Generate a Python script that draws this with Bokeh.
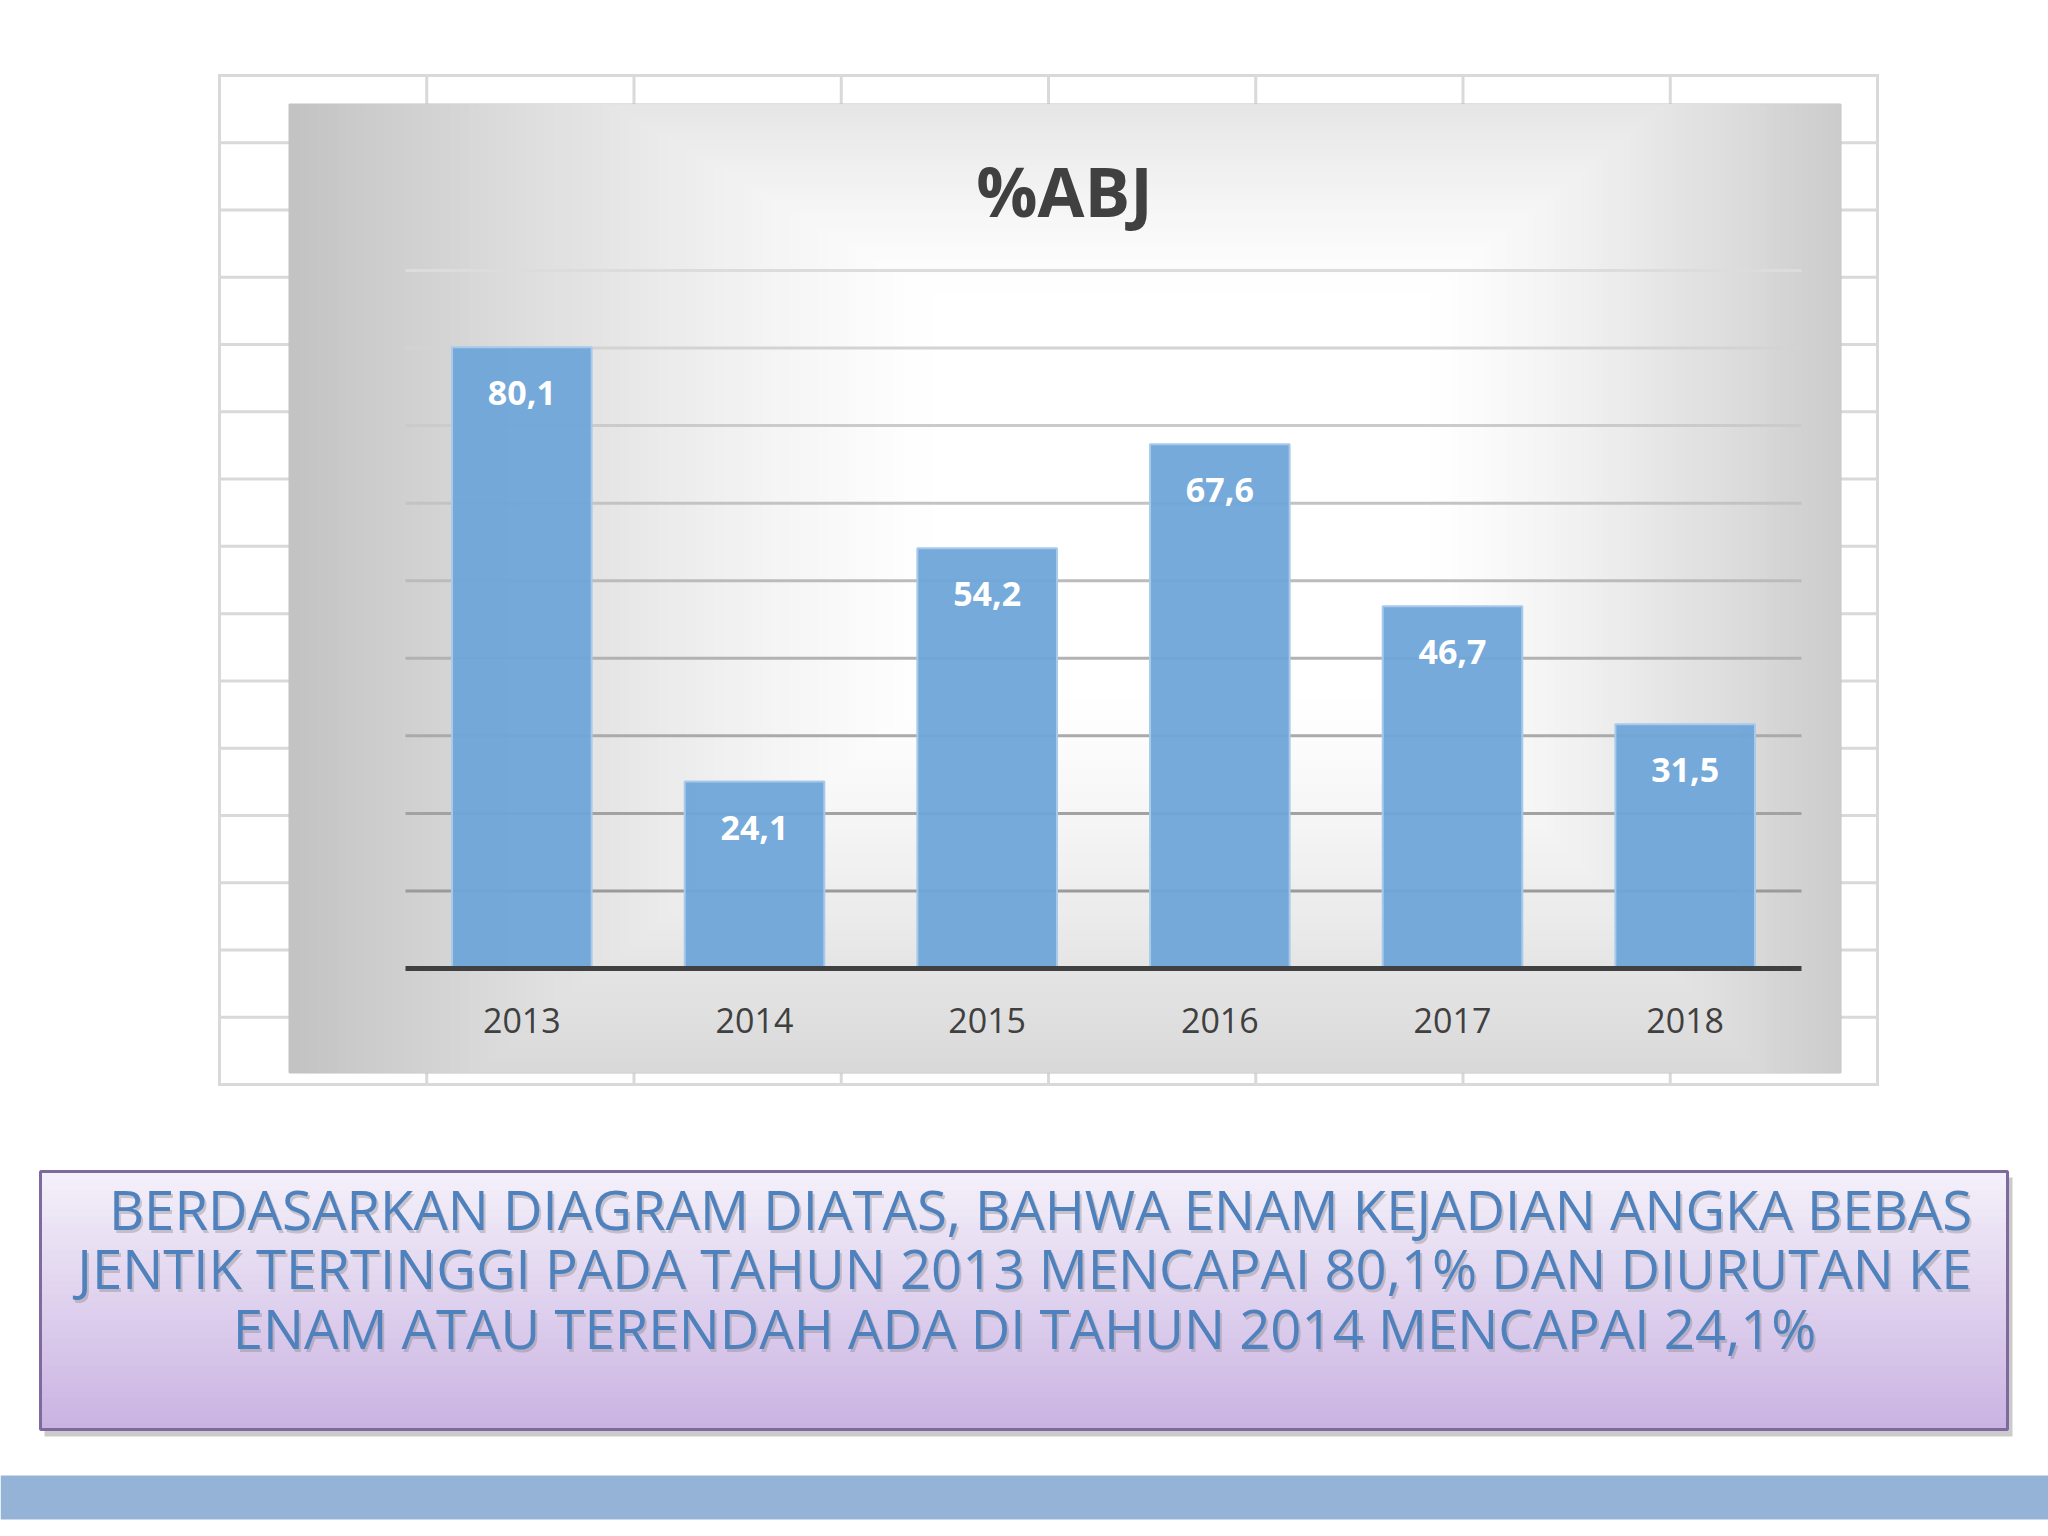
from bokeh.plotting import figure
from bokeh.models import FactorRange, Range1d, LabelSet, ColumnDataSource, Spacer
from bokeh.layouts import row, column
from bokeh.core.properties import value
from bokeh.embed import file_html
from bokeh.resources import INLINE

# ---------------- data ----------------
years = ["2013", "2014", "2015", "2016", "2017", "2018"]
abj = [80.1, 24.1, 54.2, 67.6, 46.7, 31.5]
title_text = "%ABJ"
note_lines = [
    "BERDASARKAN DIAGRAM DIATAS, BAHWA ENAM KEJADIAN ANGKA BEBAS",
    "JENTIK TERTINGGI PADA TAHUN 2013 MENCAPAI 80,1% DAN DIURUTAN KE",
    "ENAM ATAU TERENDAH ADA DI TAHUN 2014 MENCAPAI 24,1%",
]
grid_values = [10, 20, 30, 40, 50, 60, 70, 80, 90]
y_max = 90

FONT = "Open Sans"

# ---------------- layout geometry (page pixels) ----------------
PAGE_L, PAGE_R = 0, 2048
CH_L, CH_T, CH_B = 158, 0, 1112          # chart figure canvas on the page
PLOT_L, PLOT_R = 405, 1801               # plot area on the page
PLOT_TOP, PLOT_BASE = 270, 968           # y of value y_max and of 0
BOT_B = 1530                             # bottom of lower figure

cw, chh = PAGE_R - CH_L, CH_B - CH_T
pad = (PAGE_R - CH_L) / (PLOT_R - PLOT_L) - 1.0
per_px = y_max / (PLOT_BASE - PLOT_TOP)
y_lo = -(CH_B - PLOT_BASE) * per_px
y_hi = (PLOT_BASE - CH_T) * per_px
cat_w = (PLOT_R - PLOT_L) / len(years)


def cx(px):
    """page x pixel -> categorical coordinate (decorations only)"""
    return (years[0], (px - PLOT_L) / cat_w - 0.5)


def cy(py):
    """page y pixel -> value coordinate (decorations only)"""
    return (PLOT_BASE - py) * per_px


chart = figure(width=cw, height=chh,
               x_range=FactorRange(factors=years, range_padding=pad,
                                   range_padding_units="percent"),
               y_range=Range1d(y_lo, y_hi),
               x_axis_location=None, y_axis_location=None,
               output_backend="svg", toolbar_location=None, min_border=0)
chart.outline_line_color = None
chart.background_fill_color = "white"
chart.border_fill_color = "white"
chart.xgrid.visible = False
chart.ygrid.visible = False


def crect(ls, rs, ts, bs, color, alpha=1.0, line_color=None, line_width=1,
          level="image"):
    if not isinstance(ls, list):
        ls, rs, ts, bs = [ls], [rs], [ts], [bs]
    chart.vbar(x=[cx((l + r) / 2) for l, r in zip(ls, rs)],
               width=[(r - l) / cat_w for l, r in zip(ls, rs)],
               top=[cy(t) for t in ts], bottom=[cy(b) for b in bs],
               fill_color=color, fill_alpha=alpha, line_color=line_color,
               line_width=line_width, level=level)


# spreadsheet cell lines behind the chart
GL, GR, GT, GB = 219, 1877, 75, 1084
cell_h = (GB - GT) / 15
cell_w = (GR - GL) / 8
hl = [GT + k * cell_h for k in range(16)]
vl = [GL + j * cell_w for j in range(9)]
crect([GL - 1.5] * len(hl), [GR + 1.5] * len(hl),
      [y - 1.5 for y in hl], [y + 1.5 for y in hl], "#D9D9D9")
crect([x - 1.5 for x in vl], [x + 1.5 for x in vl],
      [GT - 1.5] * len(vl), [GB + 1.5] * len(vl), "#D9D9D9")

# chart area with a radial-like gradient (opaque nested layers)
AL, AR, AT, AB = 289, 1840, 104, 1072
crect(AL, AR, AT, AB, "#BEBEBE", line_color="#C2C2C2", line_width=2)
FX, FY = 1220, 460
RL, RR, RT, RB = 931, 677, 542, 765
N = 70
ls, rs, ts, bs, gc = [], [], [], [], []
for i in range(N):
    s = 1.0 - i * (0.7 / (N - 1))
    g = max(0.0, (s - 0.3) / 0.7) ** 1.3
    v = int(round(255 - 60 * g))
    ls.append(max(AL, FX - RL * s))
    rs.append(min(AR, FX + RR * s))
    ts.append(max(AT, FY - RT * s))
    bs.append(min(AB, FY + RB * s))
    gc.append("#%02X%02X%02X" % (v, v, v))
crect(ls, rs, ts, bs, gc)

# gridlines
first_edge = (years[0], -0.5)
last_edge = (years[-1], 0.5)
gcols = []
for gi in range(len(grid_values)):
    shade = int(0x9A + (0xDC - 0x9A) * gi / (len(grid_values) - 1))
    gcols.append("#%02X%02X%02X" % (shade, shade, shade))
chart.segment(x0=[first_edge] * len(grid_values), x1=[last_edge] * len(grid_values),
              y0=grid_values, y1=grid_values, line_color=gcols, line_width=3,
              level="underlay")

# bars
src = ColumnDataSource(dict(year=years, value=abj,
                            label=[("%.1f" % v).replace(".", ",") for v in abj]))
chart.vbar(x="year", top="value", width=0.6, source=src, fill_color="#6FA5D8",
           fill_alpha=0.95, line_color="#A8CAEA", line_width=2)

# baseline (category axis line)
chart.segment(x0=[first_edge], x1=[last_edge], y0=[0], y1=[0],
              line_color="#404040", line_width=5)

# value labels inside bars
chart.add_layout(LabelSet(x="year", y="value", text="label", source=src,
                          y_offset=-46, text_align="center", text_baseline="middle",
                          text_color="white", text_font=value(FONT),
                          text_font_style="bold", text_font_size="34px"))

# category labels under the baseline
chart.add_layout(LabelSet(x="year", y=0, text="year", source=src,
                          y_offset=-52, text_align="center", text_baseline="middle",
                          text_color="#404040", text_font=value(FONT),
                          text_font_size="34px"))

# title
chart.text(x=[cx(1064)], y=[cy(190)], text=[title_text],
           text_align="center", text_baseline="middle", text_font=value(FONT),
           text_font_style="bold", text_font_size="68px", text_color="#404040")

# ---------------- lower figure: note box and band ----------------
bh = BOT_B - CH_B
bot = figure(width=PAGE_R - PAGE_L, height=bh,
             x_range=Range1d(PAGE_L, PAGE_R), y_range=Range1d(BOT_B, CH_B),
             x_axis_location=None, y_axis_location=None,
             output_backend="svg", toolbar_location=None, min_border=0)
bot.outline_line_color = None
bot.background_fill_color = "white"
bot.border_fill_color = "white"
bot.xgrid.visible = False
bot.ygrid.visible = False


def bquad(l, r, t, b, color, alpha=1.0, line_color=None, line_width=1, level="image"):
    bot.quad(left=l, right=r, top=t, bottom=b, fill_color=color, fill_alpha=alpha,
             line_color=line_color, line_width=line_width, level=level)


TL, TR, TT, TB = 40, 2007, 1171, 1429
bquad(TL + 4, TR + 5, TT + 6, TB + 7, "#8C8C8C", alpha=0.45)
c0 = (0xF4, 0xF0, 0xFA)
c1 = (0xCA, 0xB3, 0xE2)
M = 40
sh = (TB - TT) / M
cols, tops, bots = [], [], []
for i in range(M):
    t = i / (M - 1)
    c = tuple(int(round(c0[k] + (c1[k] - c0[k]) * t)) for k in range(3))
    cols.append("#%02X%02X%02X" % c)
    tops.append(TT + i * sh)
    bots.append(TT + (i + 1) * sh + 0.6)
bquad([TL] * M, [TR] * M, tops, bots, cols)
bquad(TL, TR, TT, TB, None, alpha=0, line_color="#7E6A9E", line_width=3, level="glyph")

line_x = [1040, 1024, 1024]
line_y = [1208, 1267, 1327]
bot.text(x=[x + 2 for x in line_x], y=[y + 3 for y in line_y], text=note_lines,
         text_align="center", text_baseline="middle", text_font=value(FONT),
         text_font_size="54.5px", text_color="#7A7A7A", text_alpha=0.35)
bot.text(x=line_x, y=line_y, text=note_lines,
         text_align="center", text_baseline="middle", text_font=value(FONT),
         text_font_size="54.5px", text_color="#4F81BD")

# bottom band
bquad(PAGE_L, PAGE_R, 1475, 1519, "#95B3D7", level="glyph")

layout = column(row(Spacer(width=CH_L - PAGE_L, height=chh), chart), bot)

open("out.html", "w").write(file_html(layout, INLINE))
